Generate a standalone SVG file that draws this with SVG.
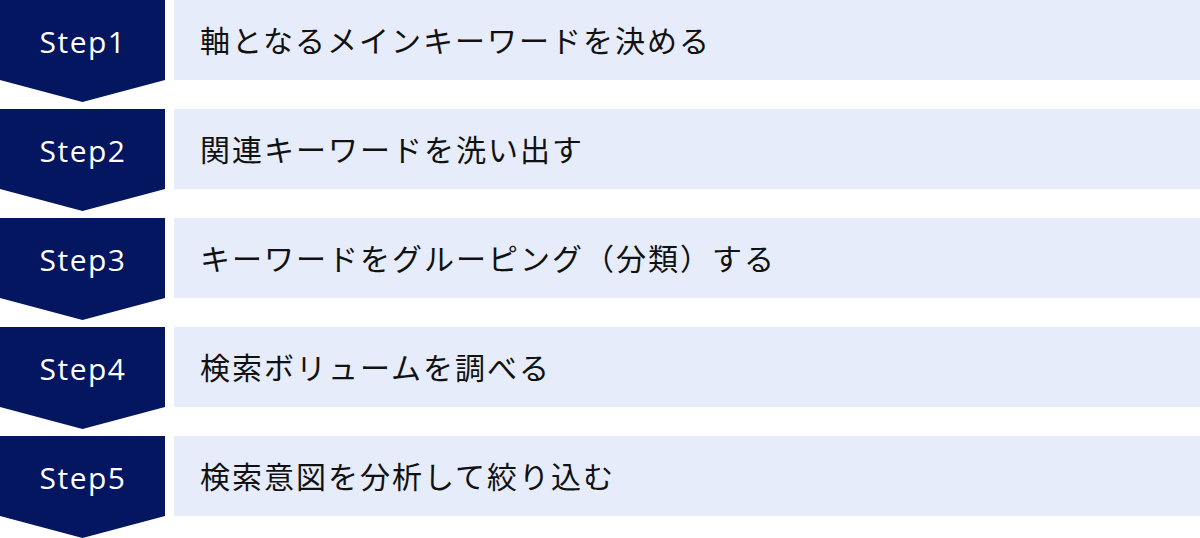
<svg xmlns="http://www.w3.org/2000/svg" width="1200" height="538" viewBox="0 0 1200 538">
<style>
.chev{fill:#04165f}
.bar{fill:#e6ecf9}
.step{font-family:"Open Sans","Noto Sans","DejaVu Sans",sans-serif;font-weight:370;font-size:30px;fill:#ffffff;text-anchor:middle;letter-spacing:1.5px}
.lbl{font-family:"Noto Sans CJK JP","Noto Sans CJK SC",sans-serif;font-size:30px;fill:#111111;letter-spacing:2px}
</style>
<defs>
<path id="chevron" d="M0,0 H165 V80 L82.5,102 L0,80 Z"/>
</defs>
<g id="step1" transform="translate(0,0)">
<use href="#chevron" class="chev"/>
<rect class="bar" x="174" y="0" width="1026" height="80"/>
<text class="step" x="83" y="53">Step1</text>
<text class="lbl" x="200" y="52">軸となるメインキーワードを決める</text>
</g>
<g id="step2" transform="translate(0,109)">
<use href="#chevron" class="chev"/>
<rect class="bar" x="174" y="0" width="1026" height="80"/>
<text class="step" x="83" y="53">Step2</text>
<text class="lbl" x="200" y="52">関連キーワードを洗い出す</text>
</g>
<g id="step3" transform="translate(0,218)">
<use href="#chevron" class="chev"/>
<rect class="bar" x="174" y="0" width="1026" height="80"/>
<text class="step" x="83" y="53">Step3</text>
<text class="lbl" x="200" y="52">キーワードをグルーピング（分類）する</text>
</g>
<g id="step4" transform="translate(0,327)">
<use href="#chevron" class="chev"/>
<rect class="bar" x="174" y="0" width="1026" height="80"/>
<text class="step" x="83" y="53">Step4</text>
<text class="lbl" x="200" y="52">検索ボリュームを調べる</text>
</g>
<g id="step5" transform="translate(0,436)">
<use href="#chevron" class="chev"/>
<rect class="bar" x="174" y="0" width="1026" height="80"/>
<text class="step" x="83" y="53">Step5</text>
<text class="lbl" x="200" y="52">検索意図を分析して絞り込む</text>
</g>
<g id="connectors"></g>
</svg>
